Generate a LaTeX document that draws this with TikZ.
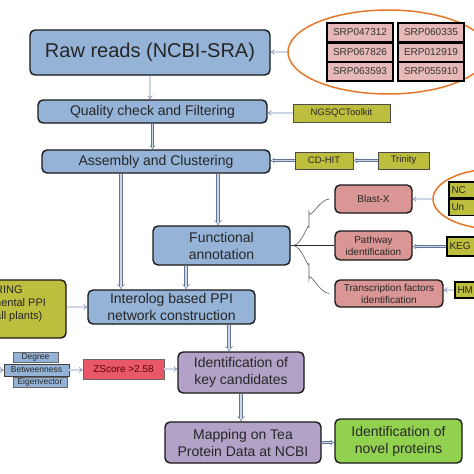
\documentclass[tikz,border=0pt]{standalone}
\usepackage{fontspec}
\setmainfont{Liberation Sans}
\usetikzlibrary{arrows.meta,shapes.geometric}

\definecolor{boxblue}{RGB}{149,179,215}
\definecolor{toololive}{RGB}{190,190,62}
\definecolor{srppink}{RGB}{230,185,184}
\definecolor{annopink}{RGB}{218,150,148}
\definecolor{zred}{RGB}{232,88,105}
\definecolor{candpurple}{RGB}{179,162,199}
\definecolor{novelgreen}{RGB}{146,208,80}
\definecolor{ringorange}{RGB}{228,120,40}
\definecolor{arrowc}{RGB}{96,116,148}
\definecolor{arrowfill}{RGB}{205,215,232}

\tikzset{
  mainbox/.style={draw=black!90, line width=1.4pt, rounded corners=5pt, fill=boxblue,
    align=center, inner sep=0pt, text=black!85, font=\fontsize{14}{17}\selectfont},
  annobox/.style={mainbox, fill=annopink, font=\fontsize{10}{12}\selectfont},
  toolbox/.style={draw=black!70, line width=0.6pt, fill=toololive, inner sep=0pt,
    text=black!85, font=\fontsize{9.5}{11}\selectfont},
  dbbox/.style={draw=black, line width=1.3pt, fill=toololive, inner ysep=0pt, inner xsep=2.5pt,
    text width=60pt, align=left, text=black!85, font=\fontsize{10}{12}\selectfont},
  srpbox/.style={draw=black, line width=1.3pt, fill=srppink, minimum width=66pt,
    minimum height=19pt, inner sep=0pt, text=black!80, font=\fontsize{10}{12}\selectfont},
  metricbox/.style={draw=black!60, line width=0.5pt, fill=boxblue, inner sep=0pt,
    text=black!85, font=\fontsize{8.5}{10}\selectfont},
  ring/.style={ellipse, draw=ringorange, line width=1.5pt, inner sep=0pt},
  dbl/.style={draw=arrowc, line width=0.5pt, double=arrowfill, double distance=1.4pt, -{Implies}},
  dblthick/.style={dbl, double distance=2.2pt},
  brace/.style={draw=black!65, line width=0.6pt}
}

\begin{document}
\begin{tikzpicture}[x=1pt,y=-1pt]
	\useasboundingbox (0,0) rectangle (474,474);
	\fill[white] (0,0) rectangle (474,474);
	\clip (0,0) rectangle (474,474);

	% main pipeline
	\node[mainbox, minimum width=240pt, minimum height=45pt, font=\fontsize{20}{24}\selectfont] (raw) at (150,52.5) {Raw reads (NCBI-SRA)};
	\node[mainbox, minimum width=229pt, minimum height=23pt] (qc) at (152.5,111.5) {Quality check and Filtering};
	\node[mainbox, minimum width=228pt, minimum height=23pt] (asm) at (156,161.5) {Assembly and Clustering};
	\node[mainbox, minimum width=137pt, minimum height=39pt] (func) at (221.5,245.5) {Functional\\annotation};
	\node[mainbox, minimum width=167pt, minimum height=34pt] (interolog) at (171.5,307) {Interolog based PPI\\network construction};
	\node[mainbox, fill=candpurple, minimum width=126pt, minimum height=41pt] (keycand) at (241,372.5) {Identification of\\key candidates};
	\node[mainbox, fill=candpurple, minimum width=156pt, minimum height=41pt] (mapping) at (243,442.5) {Mapping on Tea\\Protein Data at NCBI};
	\node[mainbox, fill=novelgreen, minimum width=127pt, minimum height=44pt] (novel) at (398.5,441) {Identification of\\novel proteins};

	% SRA runs
	\node[ring, minimum width=200pt, minimum height=84pt] (srpring) at (388,52) {};
	\node[srpbox] (srpA) at (360,32.5) {SRP047312};
	\node[srpbox] (srpB) at (431,32.5) {SRP060335};
	\node[srpbox] (srpC) at (360,52.5) {SRP067826};
	\node[srpbox] (srpD) at (431,52.5) {ERP012919};
	\node[srpbox] (srpE) at (360,71.5) {SRP063593};
	\node[srpbox] (srpF) at (431,71.5) {SRP055910};

	% tools
	\node[toolbox, minimum width=97pt, minimum height=18pt] (ngsqc) at (341.5,113) {NGSQCToolkit};
	\node[toolbox, minimum width=58pt, minimum height=17pt] (cdhit) at (324,160.5) {CD-HIT};
	\node[toolbox, minimum width=51pt, minimum height=17pt] (trinity) at (403.5,160.5) {Trinity};

	% annotation
	\node[annobox, minimum width=77pt, minimum height=28pt] (blastx) at (373.5,199) {Blast-X};
	\node[annobox, minimum width=77pt, minimum height=29pt] (pathway) at (373.5,245.5) {Pathway\\identification};
	\node[annobox, minimum width=108pt, minimum height=27pt] (tfid) at (389,293.5) {Transcription factors\\identification};

	\node[ring, minimum width=124pt, minimum height=60pt] (dbring) at (495,199) {};
	\node[dbbox, minimum height=16pt] (ncbi) at (481.5,190) {NC};
	\node[dbbox, minimum height=16pt] (uni) at (481.5,207.5) {Un};
	\node[dbbox, minimum height=19pt] (kegg) at (479.5,246.5) {KEG};
	\node[dbbox, minimum height=16pt] (hmm) at (487.5,290) {HM};

	% left side
	\node[mainbox, fill=toololive, minimum width=110pt, minimum height=58pt] (string) at (11,309) {};
	\node[align=left, anchor=west, inner sep=0pt, text=black!85, font=\fontsize{11}{13}\selectfont] (stringtxt) at (-5,304) {RING\\nental PPI\\all plants)};

	\node[metricbox, minimum width=45pt, minimum height=10pt] (degree) at (35.5,357) {Degree};
	\node[metricbox, minimum width=54pt, minimum height=10pt] (eigen) at (40,382) {Eigenvector};
	\node[metricbox, draw=black!75, minimum width=65pt, minimum height=12pt] (betw) at (36.5,370) {Betweenness};
	\node[draw=black!60, line width=0.5pt, fill=zred, inner sep=0pt, minimum width=81pt, minimum height=20pt,
	  text=red!35!black, font=\fontsize{10}{12}\selectfont] (zscore) at (123.5,369) {ZScore >2.58};
	\coordinate (offleft) at (-5,370);

	% links
	\draw[dbl] (srpring.west) -- (raw.east |- srpring.west);
	\draw[dbl] (raw.south) -- (raw.south |- qc.north);
	\draw[dbl] (ngsqc.west) -- (qc.east |- ngsqc.west);
	\draw[dbl] (qc.south) -- (qc.south |- asm.north);
	\draw[dbl] (trinity.west) -- (cdhit.east);
	\draw[dbl] (cdhit.west) -- (asm.east |- cdhit.west);
	\draw[dblthick] (121,0 |- asm.south) -- (121,0 |- interolog.north);
	\draw[dblthick] (218,0 |- asm.south) -- (218,0 |- func.north);
	\draw[dblthick] (186,0 |- func.south) -- (186,0 |- interolog.north);
	\draw[dbl] (string.east |- interolog.west) -- (interolog.west);
	\draw[dblthick] (229,0 |- interolog.south) -- (229,0 |- keycand.north);
	\draw[dbl] (offleft) -- (betw.west);
	\draw[dbl] (betw.east) -- (zscore.west |- betw.east);
	\draw[dbl] (zscore.east) -- (keycand.west |- zscore.east);
	\draw[dblthick] (keycand.south) -- (keycand.south |- mapping.north);
	\draw[dbl] (mapping.east) -- (novel.west |- mapping.east);

	% annotation branches
	\coordinate (br) at (293,245.5);
	\draw[brace, line width=0.9pt, black!85] (func.east) -- (pathway.west);
	\draw[brace] (br) to[out=0,in=90] (309,228) -- (309,212) to[out=-90,in=180] ([xshift=-5pt]blastx.west);
	\draw[brace] (br) to[out=0,in=-90] (309,263) -- (309,279) to[out=90,in=180] ([xshift=-5pt]tfid.west);
	\draw[dbl] (dbring.west) -- (blastx.east |- dbring.west);
	\draw[dbl] (kegg.west) -- (pathway.east |- kegg.west);
	\draw[dbl] (hmm.west) -- (tfid.east |- hmm.west);

\end{tikzpicture}
\end{document}
